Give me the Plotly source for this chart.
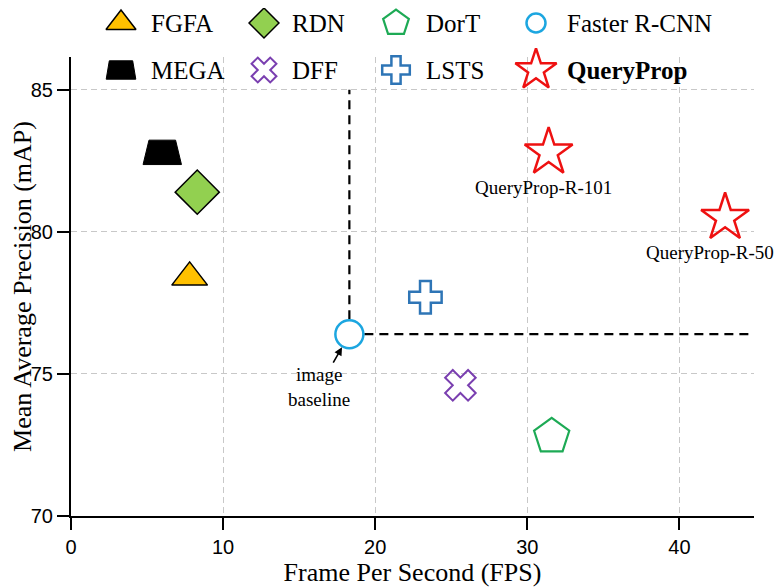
import plotly.graph_objects as go

# ---------------- data ----------------
methods = ["FGFA", "RDN", "DorT", "Faster R-CNN", "MEGA", "DFF", "LSTS", "QueryProp"]
point_method = ["FGFA", "RDN", "DorT", "Faster R-CNN", "MEGA", "DFF", "LSTS", "QueryProp", "QueryProp"]
point_label = ["", "", "", "", "", "", "", "QueryProp-R-101", "QueryProp-R-50"]
fps = [7.8, 8.3, 31.6, 18.3, 6.0, 25.6, 23.3, 31.4, 43.0]
mAP = [78.4, 81.4, 72.8, 76.4, 82.8, 74.6, 77.7, 82.8, 80.5]
x_ticks = [0, 10, 20, 30, 40]
y_ticks = [70, 75, 80, 85]
baseline_name = "Faster R-CNN"

# ---------------- style / layout (figure pixels; page body adds an 8px margin) ----------------
SERIF = "Liberation Serif, Times New Roman, serif"
NARROW = "Liberation Sans Narrow, Arial Narrow, Liberation Sans, Arial, sans-serif"
W, H = 776, 579
ML, MR, MT, MB = 63, 30, 0, 71
X_RANGE = [0, 44.9]
Y_TOP_PX = 49  # top end of the y axis line
plot_w = W - ML - MR
plot_h = H - MT - MB
y_len_px = plot_h - (Y_TOP_PX - MT)
y_dom_top = y_len_px / plot_h
sy = 28.41
Y_RANGE = [70, 70 + y_len_px / sy]
sx = plot_w / (X_RANGE[1] - X_RANGE[0])

styles = {
    "FGFA": dict(symbol="triangle-up", color="#FFC000", line="#000000", lw=1.5, size=31, lsize=26),
    "RDN": dict(symbol="diamond", color="#92D050", line="#000000", lw=1.5, size=34, lsize=23),
    "DorT": dict(symbol="pentagon-open", color="#1DAA55", line="#1DAA55", lw=2.2, size=37, lsize=27),
    "Faster R-CNN": dict(symbol="circle", color="#FFFFFF", line="#1CA6E0", lw=2.5, size=28, lsize=19),
    "MEGA": dict(symbol="trapezoid", color="#000000", line="#000000", lw=1, size=0, lsize=0),
    "DFF": dict(symbol="x-open", color="#7A3FB0", line="#7A3FB0", lw=2, size=27, lsize=22),
    "LSTS": dict(symbol="cross-open", color="#2E75B6", line="#2E75B6", lw=2.5, size=27, lsize=23),
    "QueryProp": dict(symbol="star-open", color="#EE1111", line="#EE1111", lw=2.5, size=36, lsize=31),
}

LEG_FONT = 25
leg_rows = [15, 62]
leg_icon_cols = [113, 256, 388, 528]
leg_text_cols = [141, 282, 416, 557]


def trapezoid(cx, cy, kx, ky, top_half, bot_half, half_h):
    xs = [cx - top_half / kx, cx + top_half / kx, cx + bot_half / kx, cx - bot_half / kx, cx - top_half / kx]
    ys = [cy + half_h / ky, cy + half_h / ky, cy - half_h / ky, cy - half_h / ky, cy + half_h / ky]
    return xs, ys


fig = go.Figure()

# baseline dashed guide lines (from Faster R-CNN point)
bi = point_method.index(baseline_name)
bx, by = fps[bi], mAP[bi]
guide = dict(color="black", width=2.2, dash="9px,6px")
fig.add_trace(go.Scatter(x=[bx, bx], y=[by, y_ticks[-1]], mode="lines", line=guide,
                         showlegend=False, hoverinfo="skip"))
fig.add_trace(go.Scatter(x=[bx, X_RANGE[1]], y=[by, by], mode="lines", line=guide,
                         showlegend=False, hoverinfo="skip"))

# data points
for m in methods:
    st = styles[m]
    xs = [fps[i] for i, pm in enumerate(point_method) if pm == m]
    ys = [mAP[i] for i, pm in enumerate(point_method) if pm == m]
    if st["symbol"] == "trapezoid":
        for x0, y0 in zip(xs, ys):
            tx, ty = trapezoid(x0, y0, sx, sy, 13.3, 19.2, 12.2)
            fig.add_trace(go.Scatter(x=tx, y=ty, mode="lines", fill="toself", fillcolor=st["color"],
                                     line=dict(color=st["line"], width=st["lw"]), showlegend=False,
                                     hoverinfo="skip"))
    else:
        fig.add_trace(go.Scatter(x=xs, y=ys, mode="markers", name=m, showlegend=False,
                                 marker=dict(symbol=st["symbol"], size=st["size"], color=st["color"],
                                             line=dict(color=st["line"], width=st["lw"]))))

# custom legend drawn on an overlay axis in pixel units
for i, m in enumerate(methods):
    st = styles[m]
    r, c = divmod(i, 4)
    lx, ly = leg_icon_cols[c], leg_rows[r]
    if st["symbol"] == "trapezoid":
        tx, ty = trapezoid(lx, ly, 1, -1, 11.7, 14.8, 9.2)
        fig.add_trace(go.Scatter(x=tx, y=ty, xaxis="x2", yaxis="y2", mode="lines", fill="toself",
                                 fillcolor=st["color"], line=dict(color=st["line"], width=st["lw"]),
                                 showlegend=False, hoverinfo="skip"))
    else:
        fig.add_trace(go.Scatter(x=[lx], y=[ly], xaxis="x2", yaxis="y2", mode="markers", showlegend=False,
                                 hoverinfo="skip",
                                 marker=dict(symbol=st["symbol"], size=st["lsize"], color=st["color"],
                                             line=dict(color=st["line"], width=st["lw"]))))
    txt = "<b>%s</b>" % m if m == "QueryProp" else m
    fig.add_annotation(x=leg_text_cols[c], y=ly, xref="x2", yref="y2", text=txt, showarrow=False,
                       xanchor="left", yanchor="middle", font=dict(family=SERIF, size=LEG_FONT, color="black"))

# point labels
label_shift = {"QueryProp-R-101": (-5, -35), "QueryProp-R-50": (-15, -35)}
for i, lab in enumerate(point_label):
    if lab:
        dx, dy = label_shift[lab]
        fig.add_annotation(x=fps[i], y=mAP[i], text=lab, showarrow=False, xshift=dx, yshift=dy,
                           font=dict(family=SERIF, size=19, color="black"))

# image baseline annotation
fig.add_annotation(x=bx, y=by, text="image<br>baseline", showarrow=True, ax=-30, ay=53,
                   arrowhead=2, arrowsize=1, arrowwidth=1.6, arrowcolor="black", standoff=15,
                   font=dict(family=SERIF, size=19, color="black"), align="center")

axis_common = dict(showline=True, linecolor="black", linewidth=2, ticks="outside", ticklen=12, tickwidth=2,
                   tickcolor="black", tickfont=dict(family=NARROW, size=20, color="black"),
                   showgrid=True, gridcolor="#c8c8c8", griddash="6px,4px", gridwidth=1, zeroline=False,
                   mirror=False)

fig.update_layout(
    width=W, height=H, margin=dict(l=ML, r=MR, t=MT, b=MB),
    paper_bgcolor="white", plot_bgcolor="rgba(0,0,0,0)", showlegend=False,
    xaxis=dict(range=X_RANGE, tickvals=x_ticks, domain=[0, 1], anchor="y",
               title=dict(text="Frame Per Second (FPS)", font=dict(family=SERIF, size=26, color="black"),
                          standoff=4), **axis_common),
    yaxis=dict(range=Y_RANGE, tickvals=y_ticks, domain=[0, y_dom_top], anchor="x",
               title=dict(text="Mean Average Precision (mAP)", font=dict(family=SERIF, size=26, color="black"),
                          standoff=6), **axis_common),
    xaxis2=dict(range=[ML, W - MR], domain=[0, 1], anchor="y2", visible=False, fixedrange=True),
    yaxis2=dict(range=[H - MB, MT], domain=[0, 1], anchor="x2", visible=False, fixedrange=True),
)

fig.write_html("out.html")
